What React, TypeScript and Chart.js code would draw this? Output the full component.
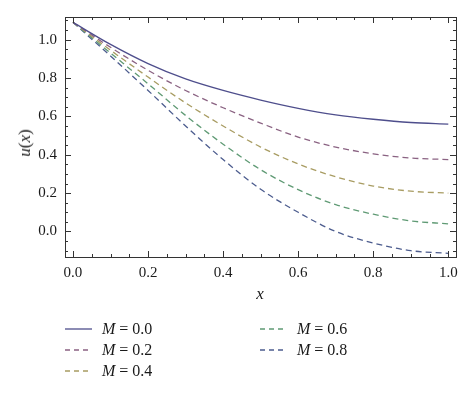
import React, { useEffect, useRef } from "react";
import { Chart, registerables } from "chart.js";

Chart.register(...registerables);

const xValues = [0, 0.1, 0.2, 0.3, 0.4, 0.5, 0.6, 0.7, 0.8, 0.9, 1.0];
const uM00 = [1.09, 0.975, 0.875, 0.795, 0.735, 0.685, 0.642, 0.608, 0.585, 0.568, 0.56];
const uM02 = [1.09, 0.96, 0.84, 0.735, 0.645, 0.565, 0.492, 0.44, 0.405, 0.383, 0.375];
const uM04 = [1.09, 0.945, 0.805, 0.67, 0.55, 0.44, 0.352, 0.285, 0.237, 0.21, 0.2];
const uM06 = [1.09, 0.93, 0.77, 0.605, 0.455, 0.322, 0.218, 0.14, 0.09, 0.055, 0.04];
const uM08 = [1.09, 0.915, 0.735, 0.55, 0.375, 0.22, 0.1, 0.0, -0.06, -0.1, -0.114];

const mLabels = ["0.0", "0.2", "0.4", "0.6", "0.8"];
const seriesValues = [uM00, uM02, uM04, uM06, uM08];
const seriesColors = ["#4e4e8c", "#8a6282", "#a89c62", "#5f9a74", "#4c5c8e"];
const seriesDash = [[], [6, 4], [6, 4], [6, 4], [6, 4]];

const xTicks = [0, 0.2, 0.4, 0.6, 0.8, 1.0];
const yTicks = [0, 0.2, 0.4, 0.6, 0.8, 1.0];
const xMinor = 0.05;
const yMinor = 0.05;

const SERIF = "'Liberation Serif', 'DejaVu Serif', serif";

const framePlugin = {
  id: "frameTicks",
  afterDraw(chart: any) {
    const { ctx, chartArea, scales } = chart;
    const { left, right, top, bottom } = chartArea;
    ctx.save();
    ctx.strokeStyle = "#333";
    ctx.lineWidth = 1;
    ctx.strokeRect(Math.round(left) + 0.5, Math.round(top) + 0.5, Math.round(right - left), Math.round(bottom - top));
    const xs = scales.x;
    const ys = scales.y;
    ctx.beginPath();
    for (let i = -1; i <= 21; i++) {
      const v = i * xMinor;
      if (v < xs.min || v > xs.max) continue;
      const major = i % 4 === 0;
      const len = major ? 6 : 3;
      const px = Math.round(xs.getPixelForValue(v)) + 0.5;
      ctx.moveTo(px, bottom);
      ctx.lineTo(px, bottom - len);
      ctx.moveTo(px, top);
      ctx.lineTo(px, top + len);
    }
    for (let i = -3; i <= 23; i++) {
      const v = i * yMinor;
      if (v < ys.min || v > ys.max) continue;
      const major = i % 4 === 0;
      const len = major ? 6 : 3;
      const py = Math.round(ys.getPixelForValue(v)) + 0.5;
      ctx.moveTo(left, py);
      ctx.lineTo(left + len, py);
      ctx.moveTo(right, py);
      ctx.lineTo(right - len, py);
    }
    ctx.stroke();
    ctx.restore();
  },
};

export default function App() {
  const ref = useRef<HTMLCanvasElement | null>(null);

  useEffect(() => {
    if (!ref.current) return;
    const datasets = seriesValues.map((vals, i) => ({
      label: "M = " + mLabels[i],
      data: vals.map((v, j) => ({ x: xValues[j], y: v })),
      borderColor: seriesColors[i],
      borderWidth: 1.3,
      borderDash: seriesDash[i],
      pointRadius: 0,
      fill: false,
      cubicInterpolationMode: "monotone" as const,
    }));
    const chart = new Chart(ref.current, {
      type: "line",
      data: { datasets },
      options: {
        animation: false,
        responsive: false,
        maintainAspectRatio: false,
        layout: { padding: { left: 0, top: 16, right: 18, bottom: 0 } },
        plugins: { legend: { display: false }, tooltip: { enabled: false } },
        scales: {
          x: {
            type: "linear",
            min: -0.0213,
            max: 1.0205,
            grid: { display: false, drawTicks: false },
            border: { display: false },
            afterFit: (s: any) => {
              s.height = 53;
            },
            afterBuildTicks: (s: any) => {
              s.ticks = xTicks.map((v) => ({ value: v }));
            },
            ticks: {
              padding: 7,
              color: "#1a1a1a",
              font: { family: SERIF, size: 15 },
              maxRotation: 0,
              callback: (v: any) => Number(v).toFixed(1),
            },
          },
          y: {
            type: "linear",
            min: -0.133,
            max: 1.118,
            grid: { display: false, drawTicks: false },
            border: { display: false },
            afterFit: (s: any) => {
              s.width = 65;
            },
            afterBuildTicks: (s: any) => {
              s.ticks = yTicks.map((v) => ({ value: v }));
            },
            ticks: {
              padding: 8,
              color: "#1a1a1a",
              font: { family: SERIF, size: 15 },
              callback: (v: any) => Number(v).toFixed(1),
            },
          },
        },
      },
      plugins: [framePlugin],
    });
    return () => chart.destroy();
  }, []);

  const legendPos = [
    { x: 65, y: 329 },
    { x: 65, y: 350 },
    { x: 65, y: 371 },
    { x: 260, y: 329 },
    { x: 260, y: 350 },
  ];

  return (
    <div style={{ position: "absolute", left: 0, top: 0, width: 474, height: 396, background: "#fff", fontFamily: SERIF, color: "#1a1a1a" }}>
      <canvas ref={ref} width={474} height={310} style={{ position: "absolute", left: 0, top: 0, width: 474, height: 310 }} />
      <div
        style={{
          position: "absolute",
          left: 25,
          top: 143,
          transform: "translate(-50%, -50%) rotate(-90deg)",
          fontSize: 17,
          whiteSpace: "nowrap",
        }}
      >
        <i>u</i>(<i>x</i>)
      </div>
      <div style={{ position: "absolute", left: 260, top: 294, transform: "translate(-50%, -50%)", fontSize: 17 }}>
        <i>x</i>
      </div>
      {mLabels.map((m, i) => (
        <div key={m} style={{ position: "absolute", left: legendPos[i].x, top: legendPos[i].y, transform: "translateY(-50%)", display: "flex", alignItems: "center", whiteSpace: "nowrap", fontSize: 16 }}>
          <svg width={27} height={6} style={{ display: "block" }}>
            <line x1={0} y1={3} x2={27} y2={3} stroke={seriesColors[i]} strokeWidth={1.3} strokeDasharray={seriesDash[i].length ? "5 4" : undefined} />
          </svg>
          <span style={{ marginLeft: 10 }}>
            <i>M</i> = {m}
          </span>
        </div>
      ))}
    </div>
  );
}
